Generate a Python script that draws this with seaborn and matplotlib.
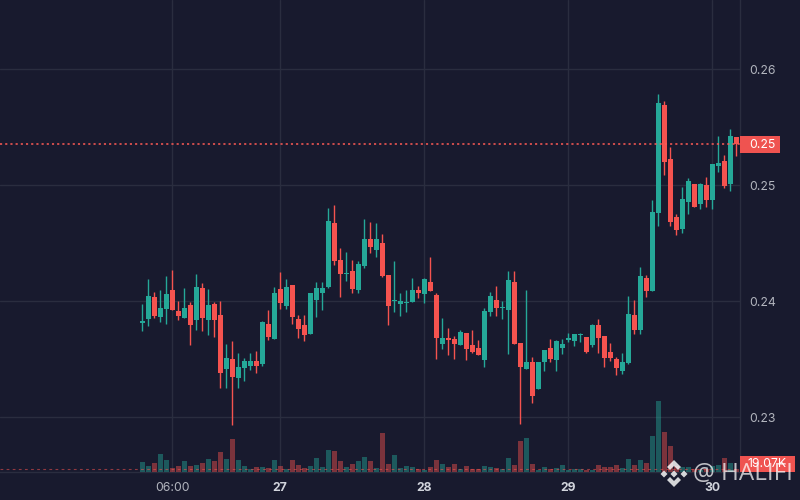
import matplotlib
matplotlib.use('Agg')
import matplotlib.pyplot as plt
from matplotlib.patches import Polygon
import numpy as np
import pandas as pd
import seaborn as sns

# Hourly candles
opens = [
    0.23810, 0.23845, 0.24034, 0.23862, 0.23931, 0.24095, 0.23914, 0.23853, 0.23966, 0.23836,
    0.24112, 0.23836, 0.23974, 0.23879, 0.23414, 0.23500, 0.23336, 0.23422, 0.23440, 0.23483,
    0.23457, 0.23802, 0.23672, 0.24103, 0.23957, 0.24138, 0.23845, 0.23793, 0.23715, 0.24009,
    0.24069, 0.24121, 0.24673, 0.24354, 0.24233, 0.24259, 0.24095, 0.24302, 0.24535, 0.24440,
    0.24500, 0.24224, 0.24000, 0.23974, 0.23983, 0.23991, 0.24095, 0.24060, 0.24164, 0.24052,
    0.23629, 0.23681, 0.23672, 0.23621, 0.23724, 0.23621, 0.23595, 0.23491, 0.23905, 0.24009,
    0.23940, 0.23922, 0.24164, 0.23638, 0.23414, 0.23474, 0.23241, 0.23474, 0.23595, 0.23491,
    0.23595, 0.23664, 0.23655, 0.23707, 0.23690, 0.23621, 0.23793, 0.23698, 0.23560, 0.23500,
    0.23396, 0.23465, 0.23879, 0.23750, 0.24198, 0.24086, 0.24759, 0.25690, 0.25224, 0.24724,
    0.24621, 0.24854, 0.25009, 0.24836, 0.25000, 0.24871, 0.25164, 0.25207, 0.25009, 0.25414,
]
highs = [
    0.23974, 0.24190, 0.24078, 0.24095, 0.24216, 0.24267, 0.24000, 0.24112, 0.23991, 0.24233,
    0.24155, 0.24103, 0.23991, 0.24000, 0.23629, 0.23655, 0.23552, 0.23509, 0.23552, 0.23569,
    0.23828, 0.23922, 0.24121, 0.24250, 0.24190, 0.24138, 0.23879, 0.23879, 0.24069, 0.24164,
    0.24164, 0.24802, 0.24828, 0.24457, 0.24422, 0.24354, 0.24345, 0.24707, 0.24681, 0.24673,
    0.24578, 0.24224, 0.24345, 0.24069, 0.24095, 0.24198, 0.24129, 0.24198, 0.24379, 0.24069,
    0.23853, 0.23767, 0.23698, 0.23750, 0.23724, 0.23750, 0.23664, 0.23940, 0.24078, 0.24129,
    0.24000, 0.24259, 0.24259, 0.23638, 0.24095, 0.23517, 0.23474, 0.23578, 0.23672, 0.23664,
    0.23672, 0.23724, 0.23715, 0.23724, 0.23690, 0.23802, 0.23845, 0.23698, 0.23638, 0.23517,
    0.23552, 0.24043, 0.24009, 0.24293, 0.24224, 0.24871, 0.25785, 0.25724, 0.25328, 0.24750,
    0.24983, 0.25061, 0.25009, 0.25017, 0.25069, 0.25181, 0.25423, 0.25259, 0.25483, 0.25414,
]
lows = [
    0.23741, 0.23784, 0.23853, 0.23819, 0.23802, 0.23922, 0.23836, 0.23853, 0.23621, 0.23750,
    0.23741, 0.23707, 0.23690, 0.23250, 0.23250, 0.22931, 0.23250, 0.23310, 0.23405, 0.23379,
    0.23440, 0.23664, 0.23672, 0.23931, 0.23931, 0.23802, 0.23681, 0.23655, 0.23715, 0.23862,
    0.23922, 0.24112, 0.24310, 0.24034, 0.24172, 0.24069, 0.24069, 0.24285, 0.24414, 0.24379,
    0.24207, 0.23793, 0.23905, 0.23871, 0.23905, 0.23991, 0.24026, 0.23983, 0.24086, 0.23500,
    0.23586, 0.23534, 0.23500, 0.23621, 0.23491, 0.23552, 0.23534, 0.23431, 0.23871, 0.23871,
    0.23845, 0.23543, 0.23629, 0.22940, 0.23414, 0.23121, 0.23241, 0.23396, 0.23474, 0.23396,
    0.23543, 0.23646, 0.23612, 0.23646, 0.23552, 0.23603, 0.23552, 0.23431, 0.23483, 0.23362,
    0.23371, 0.23457, 0.23715, 0.23715, 0.24034, 0.24086, 0.24647, 0.25086, 0.24647, 0.24569,
    0.24586, 0.24750, 0.24810, 0.24793, 0.24810, 0.24793, 0.25112, 0.24974, 0.24948, 0.25250,
]
closes = [
    0.23828, 0.24043, 0.23871, 0.23940, 0.24060, 0.23922, 0.23871, 0.23940, 0.23793, 0.24121,
    0.23853, 0.23966, 0.23836, 0.23379, 0.23509, 0.23345, 0.23431, 0.23483, 0.23483, 0.23440,
    0.23819, 0.23690, 0.24069, 0.23983, 0.24121, 0.23862, 0.23759, 0.23707, 0.24069, 0.24112,
    0.24112, 0.24690, 0.24345, 0.24233, 0.24241, 0.24103, 0.24319, 0.24535, 0.24466, 0.24535,
    0.24216, 0.23957, 0.24009, 0.24000, 0.23991, 0.24095, 0.24069, 0.24190, 0.24086, 0.23681,
    0.23681, 0.23664, 0.23629, 0.23733, 0.23586, 0.23560, 0.23534, 0.23914, 0.24043, 0.23940,
    0.23948, 0.24181, 0.23629, 0.23431, 0.23474, 0.23181, 0.23474, 0.23578, 0.23500, 0.23655,
    0.23629, 0.23681, 0.23715, 0.23715, 0.23560, 0.23793, 0.23681, 0.23509, 0.23509, 0.23422,
    0.23474, 0.23888, 0.23750, 0.24216, 0.24086, 0.24767, 0.25707, 0.25198, 0.24681, 0.24612,
    0.24879, 0.25035, 0.24810, 0.25009, 0.24871, 0.25181, 0.25190, 0.24992, 0.25423, 0.25355,
]
# volume in thousands
volumes = [
    63.6, 38.2, 57.2, 114.5, 76.3, 25.4, 38.2, 70.0, 38.2, 44.5,
    57.2, 82.7, 70.0, 127.2, 82.7, 209.9, 76.3, 38.2, 19.1, 31.8,
    31.8, 25.4, 76.3, 38.2, 19.1, 76.3, 44.5, 25.4, 38.2, 89.0,
    31.8, 139.9, 133.6, 70.0, 31.8, 50.9, 70.0, 95.4, 70.0, 25.4,
    248.0, 50.9, 108.1, 25.4, 38.2, 31.8, 19.1, 12.7, 31.8, 76.3,
    50.9, 31.8, 50.9, 19.1, 38.2, 19.1, 19.1, 38.2, 31.8, 25.4,
    19.1, 89.0, 44.5, 197.2, 216.2, 50.9, 12.7, 31.8, 19.1, 25.4,
    44.5, 12.7, 19.1, 19.1, 12.7, 12.7, 44.5, 31.8, 31.8, 44.5,
    25.4, 82.7, 44.5, 76.3, 57.2, 229.0, 451.6, 254.4, 165.4, 38.2,
    31.8, 31.8, 19.1, 12.7, 19.1, 38.2, 44.5, 89.0, 57.2, 19.07,
]
price_ticks = [0.23, 0.24, 0.25, 0.26]
price_labels = ['0.23', '0.24', '0.25', '0.26']
time_ticks = [5, 23, 47, 71, 95]
time_labels = ['06:00', '27', '28', '29', '30']
last_price_label = '0.25'
last_volume_label = '19.07K'
watermark = '@ HALIFI'

BG = '#181a2e'
GRID = '#2a2d3f'
UP = '#25a898'
DOWN = '#f5534f'
TEXT = '#b2b5be'

sns.set_theme(style='dark', rc={'axes.facecolor': BG, 'figure.facecolor': BG})
plt.rcParams['font.family'] = ['Inter', 'DejaVu Sans']

df = pd.DataFrame({'o': opens, 'h': highs, 'l': lows, 'c': closes, 'v': volumes})
df['i'] = df.index
df['dir'] = np.where(df['c'] >= df['o'], 'up', 'down')
colors = df['dir'].map({'up': UP, 'down': DOWN})

fig = plt.figure(figsize=(8, 5), dpi=100)
ax = fig.add_axes([0, 28 / 500, 740 / 800, 472 / 500])
ax.set_axisbelow(True)

# volume first, on its own hidden axis
ax_vol = ax.twinx()
sns.barplot(data=df, x='i', y='v', hue='dir', palette={'up': UP, 'down': DOWN}, native_scale=True,
            dodge=False, width=0.83, alpha=0.45, legend=False, saturation=1, linewidth=0,
            edgecolor='none', ax=ax_vol)
ax_vol.axhline(volumes[-1], color=DOWN, lw=0.8, ls=(0, (2.5, 3)), alpha=0.55)
ax_vol.set_ylim(0, 3002)
ax_vol.axis('off')

ax.vlines(df['i'], df['l'], df['h'], colors=colors, lw=1.0, zorder=3)
ax.bar(df['i'], (df['c'] - df['o']).abs().clip(lower=0.00003), bottom=df[['o', 'c']].min(axis=1),
       width=0.83, color=colors, linewidth=0, edgecolor='none', zorder=3)
ax.axhline(closes[-1], color='#ff5a55', lw=1.1, ls=(0, (1.4, 2.0)), zorder=4)

ax.set_xlim(-23.68, 99.65)
ax.set_ylim(0.22526, 0.26595)
ax.set_yticks(price_ticks)
ax.set_yticklabels(price_labels)
ax.yaxis.tick_right()
ax.set_xticks(time_ticks)
ax.set_xticklabels(time_labels)
ax.grid(True, color=GRID, lw=1)
ax.tick_params(axis='y', length=0, pad=6.5, labelsize=8.8, labelcolor=TEXT)
ax.tick_params(axis='x', length=0, pad=7, labelsize=8.8, labelcolor=TEXT)
for lab in ax.get_xticklabels()[1:]:
    lab.set_fontweight('bold')
    lab.set_color('#d1d4dc')
ax.set_xlabel('')
ax.set_ylabel('')
for side in ['top', 'left']:
    ax.spines[side].set_visible(False)
for side in ['right', 'bottom']:
    ax.spines[side].set_visible(True)
    ax.spines[side].set_color(GRID)
    ax.spines[side].set_linewidth(1)

# overlay in pixel coordinates for labels and the watermark
over = fig.add_axes([0, 0, 1, 1], facecolor='none')
over.set_xlim(0, 800)
over.set_ylim(500, 0)
over.axis('off')
over.add_patch(plt.Rectangle((740, 136), 40, 17, color='#ef5350', lw=0))
over.text(762, 144.5, last_price_label, color='white', fontsize=8.8, ha='center', va='center')
over.add_patch(plt.Rectangle((740, 456), 55, 16, color='#ef5350', lw=0))
over.text(767.5, 464, last_volume_label, color='white', fontsize=8.8, ha='center', va='center')

logo = [
    [(674, 460), (681, 467), (678, 470), (674, 466), (670, 470), (667, 467)],
    [(674, 487), (681, 480), (678, 477), (674, 481), (670, 477), (667, 480)],
    [(664, 470.5), (667.5, 474), (664, 477.5), (660.5, 474)],
    [(684, 470.5), (687.5, 474), (684, 477.5), (680.5, 474)],
    [(674, 470.5), (677.5, 474), (674, 477.5), (670.5, 474)],
]
for pts in logo:
    over.add_patch(Polygon(pts, closed=True, color='white', alpha=0.82, lw=0))
over.text(693, 473.5, watermark, color='white', alpha=0.72, fontsize=17.5, ha='left', va='center',
          family=['Open Sans', 'DejaVu Sans'])

fig.savefig('out.png', dpi=100, facecolor=BG)
